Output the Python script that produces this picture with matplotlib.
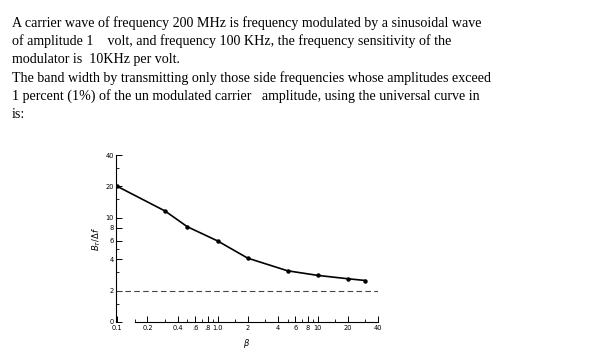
import matplotlib
matplotlib.use("Agg")
import matplotlib.pyplot as plt
from matplotlib.ticker import FixedLocator, FixedFormatter, NullFormatter

# ---- data ----
beta = [0.1, 0.3, 0.5, 1.0, 2.0, 5.0, 10.0, 20.0, 30.0]
bw_ratio = [20.0, 11.6, 8.2, 6.0, 4.1, 3.1, 2.8, 2.6, 2.5]
threshold = 2.0

x_ticks = [0.1, 0.2, 0.4, 0.6, 0.8, 1.0, 2, 4, 6, 8, 10, 20, 40]
x_tick_labels = ["0.1", "0.2", "0.4", ".6", ".8", "1.0", "2", "4", "6", "8", "10", "20", "40"]
x_minor = [0.15, 0.3, 0.5, 0.7, 0.9, 1.5, 3, 5, 7, 9, 15, 30]
y_ticks = [1, 2, 4, 6, 8, 10, 20, 40]
y_tick_labels = ["0", "2", "4", "6", "8", "10", "20", "40"]
y_minor = [1.5, 3, 5, 15, 30]

question_lines = [
    "A carrier wave of frequency 200 MHz is frequency modulated by a sinusoidal wave",
    "of amplitude 1    volt, and frequency 100 KHz, the frequency sensitivity of the",
    "modulator is  10KHz per volt.",
    "The band width by transmitting only those side frequencies whose amplitudes exceed",
    "1 percent (1%) of the un modulated carrier   amplitude, using the universal curve in",
    "is:",
]

W, H = 598, 354
fig = plt.figure(figsize=(W / 100, H / 100), dpi=100)
fig.patch.set_facecolor("white")

# question text
baselines = [26.5, 45, 63.3, 81.6, 99.9, 118.2]
for line, yb in zip(question_lines, baselines):
    fig.text(12 / W, 1 - yb / H, line, fontfamily="Liberation Serif",
             fontsize=10.1, va="baseline", ha="left", color="black")

# axes
left, right, top, bottom = 116, 378, 155, 322
ax = fig.add_axes([left / W, 1 - bottom / H, (right - left) / W, (bottom - top) / H])
ax.set_xscale("log")
ax.set_yscale("log")
ax.set_xlim(0.097, 40)
ax.set_ylim(1, 40)

ax.plot(beta, bw_ratio, color="black", lw=1.2, marker="o", ms=2.2)
ax.axhline(threshold, color="#444444", lw=0.8, ls=(0, (5, 3)))

for s in ["top", "right"]:
    ax.spines[s].set_visible(False)
ax.spines["left"].set_linewidth(0.8)
ax.spines["bottom"].set_linewidth(0.8)
ax.spines["bottom"].set_bounds(0.15, 40)

ax.xaxis.set_major_locator(FixedLocator(x_ticks))
ax.xaxis.set_major_formatter(FixedFormatter(x_tick_labels))
ax.xaxis.set_minor_locator(FixedLocator(x_minor))
ax.xaxis.set_minor_formatter(NullFormatter())
ax.yaxis.set_major_locator(FixedLocator(y_ticks))
ax.yaxis.set_major_formatter(FixedFormatter(y_tick_labels))
ax.yaxis.set_minor_locator(FixedLocator(y_minor))
ax.yaxis.set_minor_formatter(NullFormatter())

ax.tick_params(which="major", direction="in", length=4, width=0.7,
               labelsize=4.8, pad=1.5)
ax.tick_params(axis="x", which="major", pad=2.5)
ax.tick_params(which="minor", direction="in", length=2.5, width=0.6)

ax.set_xlabel(r"$\beta$", fontsize=6, labelpad=4)
ax.set_ylabel(r"$B_T/\Delta f$", fontsize=6, labelpad=2)

fig.savefig("out.png", dpi=100, facecolor="white")
